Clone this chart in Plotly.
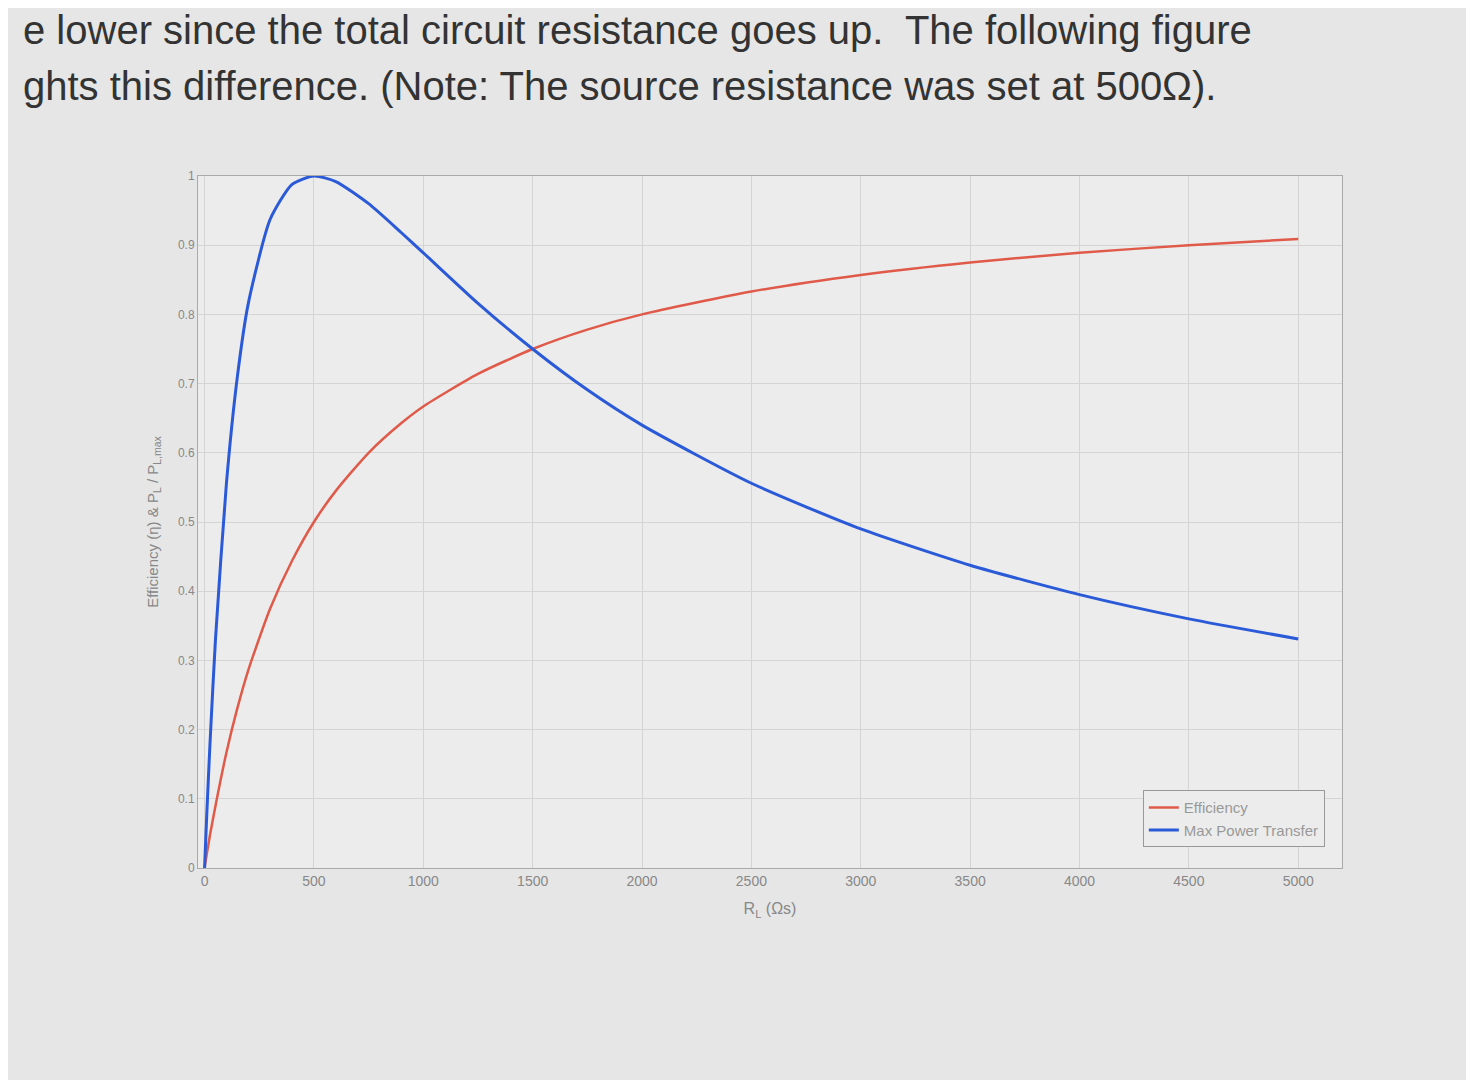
import plotly.graph_objects as go

rl = [0, 10, 25, 50, 100, 150, 200, 300, 400, 500, 600, 750, 900, 1000, 1250, 1500, 1750, 2000, 2500, 3000, 3500, 4000, 4500, 5000]
efficiency = [0, 0.02, 0.048, 0.09, 0.167, 0.231, 0.286, 0.375, 0.444, 0.5, 0.545, 0.6, 0.643, 0.667, 0.714, 0.75, 0.778, 0.8, 0.833, 0.857, 0.875, 0.889, 0.9, 0.909]
power_ratio = [0, 0.077, 0.181, 0.331, 0.556, 0.71, 0.816, 0.9375, 0.988, 1.0, 0.992, 0.96, 0.918, 0.889, 0.816, 0.75, 0.691, 0.64, 0.556, 0.49, 0.4375, 0.395, 0.36, 0.331]
x_ticks = [0, 500, 1000, 1500, 2000, 2500, 3000, 3500, 4000, 4500, 5000]
y_ticks = [0, 0.1, 0.2, 0.3, 0.4, 0.5, 0.6, 0.7, 0.8, 0.9, 1]

fig = go.Figure()
fig.add_trace(go.Scatter(x=rl, y=efficiency, mode="lines", name="Efficiency",
                         line=dict(color="#e05a4a", width=2.5, shape="spline", smoothing=0.6)))
fig.add_trace(go.Scatter(x=rl, y=power_ratio, mode="lines", name="Max Power Transfer",
                         line=dict(color="#2a5ad8", width=3, shape="spline", smoothing=0.6)))
fig.update_layout(
    width=1474, height=1080, paper_bgcolor="#e6e6e6", plot_bgcolor="#ececec",
    margin=dict(l=190, r=140, t=168, b=220),
    font=dict(family="Liberation Sans", color="#888"),
    xaxis=dict(range=[-30, 5200], tickvals=x_ticks, showgrid=True, gridcolor="#d4d4d4",
               zeroline=False, showline=True, linecolor="#aaa", mirror=True,
               title=dict(text="R<sub>L</sub> (Ωs)", font=dict(size=16)), tickfont=dict(size=14)),
    yaxis=dict(range=[0, 1.0], tickvals=y_ticks, showgrid=True, gridcolor="#d4d4d4",
               zeroline=False, showline=True, linecolor="#aaa", mirror=True,
               title=dict(text="Efficiency (η) & P<sub>L</sub> / P<sub>L,max</sub>", font=dict(size=15)),
               tickfont=dict(size=12)),
    legend=dict(x=0.985, y=0.03, xanchor="right", yanchor="bottom", bgcolor="#ececec",
                bordercolor="#999", borderwidth=1, font=dict(size=15, color="#999")),
    annotations=[
        dict(text="e lower since the total circuit resistance goes up.  The following figure",
             x=-0.155, y=1.245, xref="paper", yref="paper", xanchor="left", yanchor="top",
             showarrow=False, font=dict(size=40, color="#333")),
        dict(text="ghts this difference. (Note: The source resistance was set at 500Ω).",
             x=-0.155, y=1.165, xref="paper", yref="paper", xanchor="left", yanchor="top",
             showarrow=False, font=dict(size=40, color="#333")),
    ],
)
fig.write_html("out.html")
